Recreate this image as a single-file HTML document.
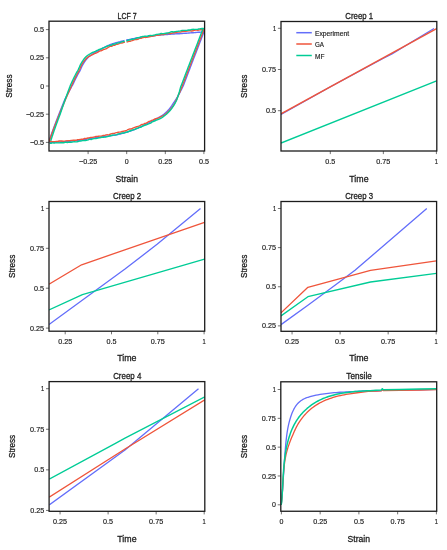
<!DOCTYPE html><html><head><meta charset="utf-8"><title>Fit comparison</title>
<style>html,body{margin:0;padding:0;background:#fff}svg{display:block}text{font-family:"Liberation Sans",sans-serif;fill:#1a1a1a;stroke:#1a1a1a;stroke-width:0.28px}text.s{stroke-width:0.16px}</style></head><body>
<svg width="447" height="550" viewBox="0 0 447 550">
<rect width="447" height="550" fill="#fff"/>
<path d="M88.10,151.00V154.10" stroke="#444" stroke-width="0.75"/>
<text x="88.10" y="164.00" font-size="7.2" text-anchor="middle" textLength="18.20" lengthAdjust="spacingAndGlyphs" class="s">−0.25</text>
<path d="M126.70,151.00V154.10" stroke="#444" stroke-width="0.75"/>
<text x="126.70" y="164.00" font-size="7.2" text-anchor="middle" textLength="3.90" lengthAdjust="spacingAndGlyphs" class="s">0</text>
<path d="M165.30,151.00V154.10" stroke="#444" stroke-width="0.75"/>
<text x="165.30" y="164.00" font-size="7.2" text-anchor="middle" textLength="14.00" lengthAdjust="spacingAndGlyphs" class="s">0.25</text>
<path d="M203.90,151.00V154.10" stroke="#444" stroke-width="0.75"/>
<text x="203.90" y="164.00" font-size="7.2" text-anchor="middle" textLength="10.00" lengthAdjust="spacingAndGlyphs" class="s">0.5</text>
<path d="M49.00,29.60H45.90" stroke="#444" stroke-width="0.75"/>
<text x="44.10" y="32.15" font-size="7.2" text-anchor="end" textLength="10.00" lengthAdjust="spacingAndGlyphs" class="s">0.5</text>
<path d="M49.00,57.80H45.90" stroke="#444" stroke-width="0.75"/>
<text x="44.10" y="60.35" font-size="7.2" text-anchor="end" textLength="14.00" lengthAdjust="spacingAndGlyphs" class="s">0.25</text>
<path d="M49.00,86.00H45.90" stroke="#444" stroke-width="0.75"/>
<text x="44.10" y="88.55" font-size="7.2" text-anchor="end" textLength="3.90" lengthAdjust="spacingAndGlyphs" class="s">0</text>
<path d="M49.00,114.20H45.90" stroke="#444" stroke-width="0.75"/>
<text x="44.10" y="116.75" font-size="7.2" text-anchor="end" textLength="18.20" lengthAdjust="spacingAndGlyphs" class="s">−0.25</text>
<path d="M49.00,142.40H45.90" stroke="#444" stroke-width="0.75"/>
<text x="44.10" y="144.95" font-size="7.2" text-anchor="end" textLength="14.20" lengthAdjust="spacingAndGlyphs" class="s">−0.5</text>
<text x="127.10" y="18.80" font-size="8.8" text-anchor="middle" textLength="19.20" lengthAdjust="spacingAndGlyphs">LCF 7</text>
<text x="126.80" y="181.80" font-size="9" text-anchor="middle" textLength="22.50" lengthAdjust="spacingAndGlyphs">Strain</text>
<text x="11.90" y="86.10" font-size="9" text-anchor="middle" textLength="23.30" lengthAdjust="spacingAndGlyphs" transform="rotate(-90 11.90 86.10)">Stress</text>
<clipPath id="c1"><rect x="49" y="21.2" width="155.6" height="129.8"/></clipPath>
<g clip-path="url(#c1)">
<path d="M48.93,141.40 L49.10,140.94 L49.29,140.39 L49.51,139.75 L49.76,139.04 L50.02,138.27 L50.31,137.45 L50.62,136.57 L50.93,135.66 L51.26,134.73 L51.60,133.77 L51.94,132.80 L52.29,131.83 L52.63,130.86 L52.97,129.91 L53.31,128.99 L53.64,128.09 L53.96,127.21 L54.30,126.32 L54.63,125.42 L54.98,124.51 L55.33,123.59 L55.68,122.67 L56.03,121.74 L56.39,120.82 L56.75,119.89 L57.11,118.96 L57.47,118.03 L57.83,117.11 L58.18,116.19 L58.54,115.28 L58.89,114.37 L59.24,113.48 L59.59,112.60 L59.93,111.72 L60.27,110.85 L60.61,109.98 L60.95,109.11 L61.29,108.25 L61.63,107.39 L61.97,106.53 L62.31,105.68 L62.66,104.82 L63.00,103.97 L63.34,103.11 L63.69,102.26 L64.04,101.40 L64.39,100.54 L64.75,99.67 L65.15,98.82 L65.59,97.97 L66.04,97.11 L66.49,96.24 L66.95,95.37 L67.41,94.50 L67.87,93.63 L68.33,92.77 L68.78,91.91 L69.24,91.06 L69.69,90.22 L70.13,89.40 L70.57,88.59 L71.00,87.80 L71.42,87.03 L71.84,86.28 L72.24,85.55 L72.65,84.83 L73.04,84.11 L73.39,83.37 L73.73,82.65 L74.06,81.93 L74.40,81.24 L74.73,80.55 L75.05,79.89 L75.36,79.24 L75.67,78.61 L75.97,78.01 L76.26,77.42 L76.54,76.87 L76.81,76.33 L77.06,75.83 L77.30,75.37 L77.52,74.95 L77.73,74.57 L77.93,74.21 L78.12,73.89 L78.30,73.58 L78.47,73.29 L78.64,73.01 L78.80,72.74 L78.97,72.47 L79.13,72.20 L79.30,71.92 L79.47,71.63 L79.64,71.32 L79.81,71.00 L80.00,70.65 L80.18,70.29 L80.35,69.92 L80.52,69.55 L80.68,69.18 L80.84,68.82 L80.99,68.45 L81.14,68.09 L81.30,67.72 L81.45,67.36 L81.61,67.00 L81.77,66.63 L81.94,66.27 L82.12,65.91 L82.30,65.55 L82.50,65.19 L82.71,64.82 L82.94,64.44 L83.18,64.03 L83.43,63.62 L83.69,63.20 L83.95,62.78 L84.23,62.35 L84.51,61.92 L84.79,61.50 L85.08,61.08 L85.37,60.67 L85.66,60.27 L85.95,59.89 L86.24,59.52 L86.53,59.18 L86.81,58.86 L87.09,58.56 L87.35,58.27 L87.59,57.98 L87.84,57.72 L88.08,57.46 L88.33,57.23 L88.58,57.00 L88.84,56.77 L89.11,56.56 L89.38,56.34 L89.67,56.13 L89.97,55.91 L90.28,55.69 L90.60,55.47 L90.93,55.23 L91.28,54.99 L91.64,54.74 L92.02,54.47 L92.42,54.20 L92.84,53.93 L93.28,53.64 L93.73,53.36 L94.19,53.07 L94.66,52.78 L95.13,52.50 L95.60,52.21 L96.07,51.93 L96.54,51.65 L97.00,51.38 L97.44,51.12 L97.87,50.87 L98.28,50.63 L98.67,50.41 L99.03,50.19 L99.39,49.99 L99.72,49.80 L100.05,49.62 L100.36,49.45 L100.67,49.29 L100.96,49.13 L101.26,48.98 L101.55,48.83 L101.83,48.68 L102.12,48.52 L102.41,48.37 L102.70,48.21 L103.01,48.04 L103.32,47.87 L103.64,47.69 L103.98,47.52 L104.34,47.35 L104.70,47.18 L105.08,47.00 L105.45,46.81 L105.84,46.63 L106.23,46.44 L106.61,46.25 L107.00,46.06 L107.39,45.87 L107.78,45.68 L108.16,45.50 L108.54,45.32 L108.92,45.16 L109.29,44.99 L109.65,44.84 L109.98,44.70 L110.29,44.58 L110.58,44.46 L110.85,44.35 L111.12,44.25 L111.38,44.15 L111.65,44.05 L111.91,43.96 L112.19,43.86 L112.48,43.77 L112.79,43.67 L113.11,43.57 L113.47,43.46 L113.85,43.34 L114.28,43.22 L114.74,43.08 L115.24,42.94 L115.77,42.79 L116.32,42.64 L116.90,42.49 L117.50,42.33 L118.12,42.17 L118.76,42.00 L119.42,41.83 L120.10,41.66 L120.79,41.48 L121.50,41.30 L122.22,41.11 L122.96,40.92 L123.72,40.73 L124.48,40.53" fill="none" stroke="#636EFA" stroke-width="1.4" stroke-linejoin="round" stroke-linecap="butt"/>
<path d="M126.06,40.15 L126.92,39.97 L127.81,39.78 L128.73,39.59 L129.68,39.39 L130.65,39.18 L131.63,38.97 L132.62,38.77 L133.60,38.56 L134.58,38.36 L135.55,38.16 L136.49,37.98 L137.41,37.80 L138.29,37.63 L139.14,37.48 L139.94,37.34 L140.70,37.21 L141.42,37.10 L142.12,37.00 L142.79,36.91 L143.43,36.83 L144.06,36.76 L144.67,36.69 L145.26,36.63 L145.85,36.58 L146.44,36.52 L147.02,36.47 L147.60,36.42 L148.20,36.37 L148.80,36.31 L149.42,36.25 L150.05,36.18 L150.67,36.11 L151.27,36.04 L151.84,35.97 L152.40,35.90 L152.95,35.84 L153.50,35.77 L154.05,35.70 L154.62,35.63 L155.20,35.56 L155.82,35.49 L156.46,35.42 L157.15,35.34 L157.88,35.26 L158.67,35.18 L159.52,35.09 L160.44,35.00 L161.44,34.92 L162.51,34.83 L163.64,34.74 L164.83,34.64 L166.07,34.54 L167.34,34.43 L168.65,34.33 L169.99,34.23 L171.34,34.13 L172.71,34.04 L174.08,33.96 L175.44,33.88 L176.80,33.81 L178.13,33.74 L179.44,33.68 L180.71,33.60 L181.99,33.49 L183.32,33.38 L184.70,33.28 L186.10,33.18 L187.52,33.08 L188.95,32.99 L190.37,32.89 L191.77,32.79 L193.13,32.68 L194.45,32.58 L195.72,32.49 L196.92,32.40 L198.03,32.32 L199.05,32.25 L199.97,32.19 L200.77,32.13 L201.43,32.08 L201.98,32.05 L202.42,32.03 L202.77,32.01 L203.02,32.01 L203.19,32.01 L203.27,32.01 L203.24,32.01 L203.11,32.00 L202.86,31.95 L202.58,31.87 L202.51,31.84 L202.83,31.96 L203.30,32.06 L203.70,32.10 L203.90,32.10" fill="none" stroke="#636EFA" stroke-width="1.4" stroke-linejoin="round" stroke-linecap="butt"/>
<path d="M49.12,141.47 L49.29,141.01 L49.49,140.45 L49.72,139.82 L49.97,139.12 L50.24,138.35 L50.54,137.53 L50.85,136.66 L51.18,135.75 L51.52,134.82 L51.86,133.86 L52.22,132.90 L52.57,131.93 L52.92,130.97 L53.28,130.02 L53.62,129.10 L53.96,128.21 L54.29,127.33 L54.63,126.45 L54.98,125.55 L55.33,124.64 L55.69,123.73 L56.05,122.81 L56.41,121.89 L56.78,120.97 L57.15,120.04 L57.52,119.12 L57.89,118.19 L58.25,117.27 L58.62,116.36 L58.99,115.45 L59.35,114.55 L59.70,113.66 L60.06,112.78 L60.41,111.91 L60.76,111.04 L61.11,110.17 L61.46,109.31 L61.81,108.45 L62.16,107.60 L62.51,106.75 L62.85,105.89 L63.20,105.04 L63.55,104.19 L63.91,103.34 L64.26,102.49 L64.62,101.63 L64.98,100.78 L65.34,99.92 L65.71,99.05 L66.08,98.17 L66.46,97.28 L66.85,96.39 L67.23,95.49 L67.62,94.59 L68.01,93.69 L68.39,92.80 L68.78,91.91 L69.17,91.03 L69.55,90.16 L69.93,89.31 L70.30,88.47 L70.67,87.65 L71.03,86.85 L71.38,86.08 L71.72,85.32 L72.06,84.56 L72.40,83.81 L72.73,83.07 L73.07,82.34 L73.40,81.62 L73.72,80.92 L74.05,80.23 L74.36,79.56 L74.67,78.91 L74.97,78.28 L75.27,77.66 L75.55,77.08 L75.82,76.51 L76.09,75.98 L76.34,75.47 L76.57,75.00 L76.80,74.57 L77.01,74.17 L77.21,73.81 L77.39,73.47 L77.57,73.16 L77.75,72.86 L77.91,72.58 L78.08,72.30 L78.24,72.04 L78.40,71.77 L78.56,71.49 L78.72,71.21 L78.88,70.91 L79.05,70.60 L79.22,70.26 L79.39,69.91 L79.55,69.55 L79.71,69.20 L79.86,68.84 L80.01,68.48 L80.16,68.11 L80.31,67.74 L80.46,67.38 L80.61,67.01 L80.77,66.63 L80.93,66.26 L81.10,65.88 L81.28,65.50 L81.47,65.12 L81.68,64.74 L81.89,64.35 L82.12,63.96 L82.36,63.55 L82.62,63.14 L82.91,62.72 L83.20,62.30 L83.50,61.88 L83.80,61.46 L84.11,61.04 L84.42,60.63 L84.74,60.22 L85.06,59.83 L85.38,59.45 L85.70,59.08 L86.01,58.74 L86.33,58.42 L86.63,58.12 L86.94,57.85 L87.24,57.59 L87.53,57.36 L87.82,57.14 L88.11,56.94 L88.41,56.75 L88.70,56.57 L89.01,56.40 L89.31,56.23 L89.63,56.06 L89.96,55.89 L90.30,55.73 L90.65,55.55 L91.01,55.37 L91.39,55.19 L91.79,54.99 L92.20,54.79 L92.63,54.59 L93.08,54.38 L93.55,54.18 L94.02,53.94 L94.50,53.70 L94.99,53.47 L95.49,53.24 L95.99,53.02 L96.48,52.81 L96.98,52.60 L97.45,52.37 L97.89,52.11 L98.31,51.84 L98.72,51.60 L99.12,51.40 L99.49,51.21 L99.84,51.03 L100.20,50.91 L100.56,50.83 L100.91,50.76 L101.25,50.71 L101.58,50.64 L101.86,50.47 L102.14,50.29 L102.41,50.11 L102.69,49.92 L102.98,49.75 L103.31,49.65 L103.65,49.55 L104.00,49.44 L104.37,49.33 L104.75,49.21 L105.14,49.07 L105.53,48.94 L105.94,48.80 L106.32,48.61 L106.70,48.40 L107.08,48.19 L107.45,47.98 L107.80,47.71 L108.15,47.45 L108.49,47.19 L108.84,46.95 L109.20,46.76 L109.55,46.59 L109.89,46.42 L110.25,46.30 L110.62,46.28 L110.97,46.27 L111.29,46.26 L111.59,46.25 L111.87,46.21 L112.09,46.06 L112.31,45.90 L112.53,45.75 L112.77,45.60 L113.02,45.44 L113.31,45.36 L113.65,45.34 L114.02,45.32 L114.43,45.31 L114.85,45.23 L115.27,44.96 L115.72,44.68 L116.21,44.40 L116.78,44.35 L117.37,44.30 L117.97,44.15 L118.55,43.84 L119.15,43.53 L119.79,43.31 L120.46,43.11 L121.17,43.01 L121.92,42.98 L122.65,42.82 L123.35,42.47 L124.10,42.24 L124.92,42.28" fill="none" stroke="#EF553B" stroke-width="1.4" stroke-linejoin="round" stroke-linecap="butt"/>
<path d="M126.58,42.14 L127.42,41.89 L128.25,41.46 L129.18,41.28 L130.18,41.26 L131.12,40.95 L132.07,40.62 L133.01,40.27 L133.96,39.93 L134.91,39.64 L135.91,39.58 L136.86,39.46 L137.77,39.28 L138.58,38.82 L139.34,38.32 L140.16,38.33 L140.94,38.35 L141.61,38.02 L142.25,37.70 L142.90,37.53 L143.53,37.43 L144.16,37.37 L144.78,37.41 L145.39,37.45 L145.98,37.41 L146.55,37.30 L147.13,37.19 L147.71,37.09 L148.29,36.98 L148.89,36.87 L149.50,36.74 L150.12,36.60 L150.74,36.48 L151.33,36.39 L151.90,36.30 L152.46,36.21 L153.00,36.11 L153.55,36.02 L154.09,35.90 L154.65,35.79 L155.22,35.65 L155.81,35.45 L156.43,35.25 L157.12,35.20 L157.87,35.21 L158.67,35.16 L159.52,35.05 L160.42,34.84 L161.38,34.56 L162.48,34.61 L163.61,34.52 L164.77,34.25 L165.93,33.70 L167.22,33.66 L168.53,33.55 L169.87,33.46 L171.24,33.44 L172.55,33.00 L173.89,32.70 L175.29,32.79 L176.61,32.44 L177.91,32.09 L179.22,32.02 L180.53,32.11 L181.77,31.63 L183.11,31.51 L184.48,31.30 L185.89,31.20 L187.32,31.07 L188.73,30.77 L190.16,30.69 L191.59,30.97 L192.96,30.81 L194.25,30.37 L195.50,30.03 L196.70,29.97 L197.84,30.22 L198.86,30.04 L199.77,29.89 L200.56,29.77 L201.23,29.70 L201.80,29.73 L202.27,29.75 L202.65,29.77 L202.94,29.75 L203.16,29.73 L203.31,29.73 L203.40,29.73 L203.43,29.73 L203.41,29.73 L203.37,29.72 L203.38,29.72 L203.48,29.76 L203.64,29.79 L203.78,29.80 L203.90,29.80" fill="none" stroke="#EF553B" stroke-width="1.4" stroke-linejoin="round" stroke-linecap="butt"/>
<path d="M50.35,141.90 L50.51,141.43 L50.69,140.87 L50.91,140.24 L51.14,139.53 L51.40,138.75 L51.68,137.92 L51.97,137.05 L52.27,136.13 L52.59,135.19 L52.91,134.23 L53.24,133.26 L53.57,132.28 L53.90,131.32 L54.23,130.37 L54.55,129.44 L54.87,128.55 L55.18,127.67 L55.50,126.77 L55.83,125.87 L56.16,124.96 L56.49,124.04 L56.83,123.11 L57.17,122.18 L57.52,121.25 L57.86,120.32 L58.21,119.38 L58.56,118.45 L58.90,117.53 L59.25,116.60 L59.59,115.69 L59.93,114.78 L60.27,113.88 L60.58,112.99 L60.88,112.09 L61.18,111.20 L61.47,110.31 L61.77,109.43 L62.07,108.56 L62.36,107.68 L62.66,106.81 L62.96,105.94 L63.26,105.06 L63.56,104.19 L63.86,103.32 L64.16,102.45 L64.47,101.57 L64.78,100.69 L65.09,99.81 L65.40,98.92 L65.72,98.02 L66.05,97.11 L66.38,96.19 L66.71,95.27 L67.04,94.35 L67.38,93.43 L67.71,92.51 L68.05,91.60 L68.38,90.69 L68.71,89.80 L69.04,88.92 L69.36,88.06 L69.68,87.22 L69.99,86.40 L70.30,85.60 L70.63,84.83 L70.97,84.07 L71.31,83.32 L71.65,82.57 L71.99,81.84 L72.33,81.12 L72.66,80.42 L72.98,79.73 L73.30,79.06 L73.62,78.40 L73.92,77.77 L74.22,77.16 L74.51,76.57 L74.78,76.00 L75.05,75.46 L75.31,74.95 L75.55,74.47 L75.78,74.03 L76.00,73.62 L76.20,73.25 L76.40,72.90 L76.59,72.58 L76.76,72.28 L76.94,71.99 L77.10,71.72 L77.26,71.45 L77.42,71.19 L77.57,70.92 L77.73,70.65 L77.88,70.37 L78.04,70.07 L78.21,69.75 L78.37,69.42 L78.52,69.09 L78.68,68.74 L78.83,68.40 L78.97,68.04 L79.12,67.68 L79.27,67.32 L79.43,66.95 L79.58,66.57 L79.75,66.19 L79.92,65.80 L80.10,65.41 L80.29,65.01 L80.49,64.61 L80.71,64.21 L80.93,63.80 L81.17,63.40 L81.41,62.98 L81.67,62.56 L81.93,62.12 L82.21,61.68 L82.49,61.24 L82.77,60.79 L83.07,60.34 L83.37,59.90 L83.67,59.46 L83.98,59.04 L84.30,58.62 L84.61,58.22 L84.93,57.83 L85.25,57.46 L85.58,57.11 L85.90,56.78 L86.22,56.48 L86.53,56.20 L86.85,55.94 L87.17,55.69 L87.49,55.46 L87.81,55.24 L88.13,55.03 L88.46,54.82 L88.79,54.63 L89.12,54.43 L89.46,54.24 L89.81,54.05 L90.16,53.85 L90.53,53.64 L90.91,53.43 L91.32,53.20 L91.76,52.96 L92.22,52.72 L92.69,52.48 L93.17,52.25 L93.67,52.01 L94.17,51.78 L94.68,51.55 L95.18,51.32 L95.67,51.07 L96.15,50.81 L96.63,50.59 L97.10,50.39 L97.57,50.23 L98.01,50.05 L98.41,49.85 L98.79,49.66 L99.16,49.47 L99.53,49.35 L99.90,49.28 L100.26,49.21 L100.61,49.16 L100.95,49.10 L101.24,48.93 L101.52,48.76 L101.79,48.58 L102.07,48.40 L102.35,48.23 L102.67,48.13 L103.00,48.03 L103.34,47.93 L103.69,47.82 L104.04,47.66 L104.40,47.48 L104.75,47.29 L105.12,47.09 L105.50,46.92 L105.90,46.75 L106.29,46.58 L106.69,46.41 L107.09,46.24 L107.49,46.07 L107.89,45.91 L108.29,45.77 L108.70,45.67 L109.10,45.57 L109.50,45.49 L109.88,45.42 L110.25,45.38 L110.60,45.35 L110.92,45.32 L111.22,45.29 L111.49,45.23 L111.72,45.06 L111.94,44.88 L112.17,44.71 L112.41,44.53 L112.67,44.35 L112.97,44.26 L113.32,44.24 L113.69,44.22 L114.10,44.20 L114.54,44.15 L115.00,44.00 L115.49,43.83 L116.00,43.65 L116.53,43.42 L117.08,43.17 L117.67,42.97 L118.29,42.85 L118.94,42.73 L119.61,42.59 L120.30,42.45 L120.97,42.20 L121.64,41.86 L122.35,41.62 L123.12,41.54 L123.90,41.45 L124.69,41.35" fill="none" stroke="#00CC96" stroke-width="1.4" stroke-linejoin="round" stroke-linecap="butt"/>
<path d="M126.29,41.05 L127.12,40.76 L127.94,40.29 L128.86,40.05 L129.84,39.96 L130.76,39.59 L131.72,39.31 L132.74,39.24 L133.74,39.08 L134.71,38.86 L135.62,38.47 L136.52,38.11 L137.40,37.77 L138.32,37.74 L139.21,37.78 L139.95,37.39 L140.66,37.02 L141.37,36.83 L142.05,36.65 L142.72,36.54 L143.37,36.46 L143.99,36.38 L144.60,36.27 L145.19,36.17 L145.80,36.20 L146.41,36.32 L147.01,36.44 L147.58,36.25 L148.14,36.00 L148.71,35.76 L149.31,35.60 L149.92,35.43 L150.55,35.43 L151.18,35.53 L151.78,35.63 L152.33,35.50 L152.86,35.35 L153.39,35.19 L153.94,35.09 L154.50,34.99 L155.08,34.87 L155.68,34.69 L156.30,34.50 L156.99,34.38 L157.72,34.29 L158.51,34.17 L159.35,34.01 L160.25,33.78 L161.21,33.49 L162.33,33.68 L163.47,33.66 L164.64,33.44 L165.86,33.21 L167.12,33.00 L168.42,32.82 L169.71,32.41 L170.99,31.81 L172.36,31.70 L173.78,31.95 L175.11,31.58 L176.46,31.40 L177.80,31.27 L179.10,31.08 L180.37,30.88 L181.64,30.56 L182.98,30.41 L184.38,30.36 L185.80,30.33 L187.23,30.20 L188.66,30.03 L190.08,29.94 L191.46,29.55 L192.82,29.32 L194.16,29.36 L195.44,29.41 L196.64,29.38 L197.75,29.23 L198.77,29.05 L199.68,28.89 L200.47,28.73 L201.14,28.61 L201.71,28.52 L202.19,28.45 L202.57,28.40 L202.89,28.44 L203.14,28.47 L203.33,28.51 L203.48,28.53 L203.60,28.56 L203.70,28.59 L203.77,28.63 L203.81,28.65 L203.81,28.65 L203.80,28.66 L203.82,28.67 L203.90,28.69" fill="none" stroke="#00CC96" stroke-width="1.4" stroke-linejoin="round" stroke-linecap="butt"/>
<path d="M204.74,29.72 L204.49,30.37 L204.19,31.16 L203.84,32.09 L203.44,33.13 L203.01,34.27 L202.55,35.48 L202.07,36.75 L201.57,38.06 L201.06,39.40 L200.55,40.74 L200.04,42.06 L199.55,43.35 L199.08,44.59 L198.63,45.76 L198.22,46.84 L197.84,47.82 L197.50,48.71 L197.18,49.54 L196.88,50.32 L196.59,51.05 L196.32,51.75 L196.06,52.41 L195.80,53.06 L195.56,53.69 L195.31,54.32 L195.07,54.94 L194.82,55.57 L194.56,56.22 L194.30,56.89 L194.03,57.60 L193.74,58.34 L193.44,59.12 L193.12,59.95 L192.79,60.81 L192.46,61.69 L192.11,62.60 L191.76,63.52 L191.40,64.46 L191.04,65.41 L190.68,66.36 L190.31,67.32 L189.95,68.28 L189.59,69.24 L189.23,70.18 L188.87,71.12 L188.52,72.04 L188.18,72.94 L187.84,73.82 L187.51,74.69 L187.18,75.56 L186.85,76.43 L186.52,77.29 L186.19,78.16 L185.86,79.01 L185.54,79.86 L185.22,80.70 L184.90,81.53 L184.59,82.34 L184.28,83.14 L183.98,83.92 L183.68,84.69 L183.39,85.43 L183.08,86.13 L182.76,86.80 L182.44,87.44 L182.14,88.05 L181.86,88.64 L181.58,89.20 L181.31,89.75 L181.05,90.27 L180.80,90.78 L180.54,91.28 L180.30,91.77 L180.05,92.25 L179.80,92.73 L179.55,93.21 L179.30,93.68 L179.04,94.16 L178.78,94.65 L178.50,95.15 L178.23,95.65 L177.95,96.15 L177.66,96.65 L177.35,97.15 L177.04,97.64 L176.74,98.13 L176.43,98.62 L176.12,99.10 L175.81,99.58 L175.50,100.05 L175.19,100.51 L174.89,100.97 L174.58,101.41 L174.28,101.85 L173.98,102.27 L173.67,102.68 L173.38,103.09 L173.12,103.50 L172.88,103.91 L172.64,104.31 L172.39,104.71 L172.15,105.09 L171.91,105.47 L171.66,105.84 L171.42,106.20 L171.17,106.56 L170.92,106.91 L170.67,107.26 L170.41,107.61 L170.15,107.95 L169.88,108.29 L169.60,108.63 L169.32,108.96 L169.04,109.30 L168.75,109.63 L168.45,109.96 L168.15,110.28 L167.84,110.60 L167.53,110.92 L167.22,111.23 L166.91,111.54 L166.60,111.84 L166.28,112.13 L165.97,112.42 L165.65,112.71 L165.34,112.98 L165.03,113.25 L164.72,113.51 L164.42,113.76 L164.14,114.00 L163.87,114.22 L163.61,114.43 L163.36,114.63 L163.11,114.82 L162.86,115.01 L162.60,115.19 L162.34,115.37 L162.06,115.55 L161.77,115.74 L161.45,115.93 L161.10,116.13 L160.73,116.34 L160.32,116.57 L159.88,116.80 L159.42,117.09 L158.92,117.39 L158.38,117.70 L157.82,118.02 L157.24,118.36 L156.63,118.70 L156.00,119.04 L155.36,119.39 L154.71,119.74 L154.05,120.09 L153.39,120.44 L152.73,120.79 L152.07,121.14 L151.43,121.48 L150.79,121.81 L150.17,122.13 L149.56,122.45 L148.95,122.77 L148.34,123.08 L147.73,123.40 L147.11,123.71 L146.50,124.02 L145.89,124.32 L145.27,124.63 L144.66,124.93 L144.05,125.23 L143.43,125.53 L142.82,125.83 L142.21,126.13 L141.60,126.42 L140.99,126.72 L140.38,127.01 L139.77,127.30 L139.16,127.60 L138.55,127.89 L137.95,128.18 L137.33,128.45 L136.71,128.69 L136.08,128.93 L135.46,129.17 L134.83,129.41 L134.20,129.64 L133.58,129.88 L132.95,130.10 L132.32,130.33 L131.69,130.55 L131.06,130.77 L130.42,130.98 L129.80,131.19 L129.19,131.39 L128.59,131.59 L128.00,131.78 L127.41,131.97 L126.82,132.15 L126.23,132.33 L125.63,132.51 L125.03,132.69 L124.41,132.87 L123.77,133.05 L123.12,133.22 L122.44,133.40 L121.74,133.58 L121.01,133.77 L120.25,133.96 L119.46,134.15 L118.64,134.34 L117.79,134.53 L116.91,134.70 L116.01,134.85 L115.09,135.00 L114.16,135.15 L113.21,135.30 L112.25,135.45 L111.29,135.59 L110.32,135.74 L109.35,135.88 L108.38,136.02 L107.41,136.17 L106.45,136.30 L105.50,136.44 L104.55,136.57 L103.59,136.71 L102.63,136.84 L101.66,136.97 L100.69,137.10 L99.72,137.23 L98.74,137.36 L97.76,137.49 L96.78,137.61 L95.80,137.74 L94.82,137.86 L93.84,137.98 L92.87,138.13 L91.91,138.29 L90.95,138.45 L90.00,138.60 L89.05,138.75 L88.11,138.91 L87.16,139.06 L86.22,139.21 L85.28,139.36 L84.35,139.51 L83.41,139.66 L82.47,139.80 L81.54,139.94 L80.61,140.08 L79.67,140.21 L78.74,140.34 L77.81,140.46 L76.87,140.58 L75.94,140.69 L75.00,140.80 L74.05,140.90 L73.09,140.99 L72.12,141.08 L71.15,141.17 L70.16,141.25 L69.18,141.32 L68.20,141.39 L67.23,141.46 L66.26,141.52 L65.30,141.58 L64.36,141.64 L63.44,141.69 L62.54,141.75 L61.66,141.80 L60.82,141.85 L60.00,141.90 L59.20,141.95 L58.39,141.99 L57.59,142.04 L56.79,142.08 L56.01,142.12 L55.24,142.15 L54.49,142.19 L53.76,142.22 L53.07,142.25 L52.41,142.28 L51.78,142.30 L51.20,142.32 L50.67,142.35 L50.19,142.37 L49.76,142.38 L49.40,142.40" fill="none" stroke="#636EFA" stroke-width="1.4" stroke-linejoin="round" stroke-linecap="butt"/>
<path d="M203.90,29.40 L203.65,30.05 L203.35,30.84 L203.00,31.77 L202.60,32.81 L202.17,33.95 L201.71,35.16 L201.22,36.43 L200.73,37.74 L200.22,39.08 L199.71,40.42 L199.20,41.74 L198.71,43.03 L198.24,44.27 L197.79,45.44 L197.38,46.52 L197.00,47.50 L196.66,48.39 L196.34,49.21 L196.04,49.99 L195.75,50.72 L195.48,51.42 L195.22,52.09 L194.97,52.73 L194.72,53.36 L194.47,53.99 L194.23,54.61 L193.98,55.25 L193.73,55.90 L193.46,56.57 L193.19,57.27 L192.90,58.01 L192.60,58.80 L192.28,59.63 L191.95,60.49 L191.62,61.37 L191.27,62.28 L190.92,63.20 L190.56,64.14 L190.20,65.09 L189.84,66.04 L189.47,67.00 L189.11,67.96 L188.75,68.92 L188.39,69.86 L188.03,70.80 L187.68,71.72 L187.34,72.62 L187.00,73.50 L186.67,74.37 L186.34,75.24 L186.01,76.11 L185.68,76.97 L185.35,77.84 L185.02,78.69 L184.70,79.54 L184.38,80.38 L184.06,81.21 L183.75,82.02 L183.44,82.82 L183.14,83.60 L182.84,84.36 L182.55,85.10 L182.27,85.81 L182.00,86.50 L181.74,87.16 L181.49,87.79 L181.24,88.39 L181.01,88.97 L180.79,89.53 L180.57,90.07 L180.35,90.60 L180.14,91.11 L179.93,91.62 L179.72,92.11 L179.51,92.60 L179.30,93.10 L179.08,93.59 L178.86,94.08 L178.63,94.59 L178.42,95.11 L178.20,95.64 L177.98,96.17 L177.76,96.70 L177.53,97.23 L177.30,97.77 L177.08,98.30 L176.85,98.82 L176.61,99.35 L176.38,99.87 L176.15,100.38 L175.91,100.88 L175.68,101.38 L175.44,101.87 L175.20,102.36 L174.96,102.83 L174.73,103.29 L174.49,103.74 L174.23,104.16 L173.97,104.57 L173.71,104.97 L173.45,105.37 L173.19,105.76 L172.93,106.14 L172.67,106.51 L172.41,106.88 L172.15,107.24 L171.88,107.60 L171.61,107.95 L171.33,108.31 L171.05,108.65 L170.76,109.00 L170.47,109.34 L170.17,109.68 L169.87,110.02 L169.55,110.35 L169.24,110.68 L168.92,111.01 L168.60,111.33 L168.27,111.64 L167.94,111.95 L167.61,112.26 L167.28,112.56 L166.95,112.85 L166.62,113.14 L166.30,113.43 L165.98,113.71 L165.66,113.99 L165.35,114.26 L165.05,114.52 L164.75,114.74 L164.45,114.94 L164.15,115.11 L163.85,115.26 L163.55,115.41 L163.27,115.57 L162.98,115.73 L162.69,115.89 L162.38,116.04 L162.05,116.20 L161.71,116.37 L161.34,116.54 L160.94,116.72 L160.52,116.93 L160.07,117.17 L159.59,117.44 L159.07,117.70 L158.50,117.95 L157.91,118.21 L157.24,118.37 L156.55,118.52 L155.85,118.71 L155.16,118.96 L154.49,119.26 L153.82,119.57 L153.14,119.87 L152.45,120.15 L151.77,120.44 L151.11,120.75 L150.46,121.05 L149.79,121.25 L149.12,121.42 L148.51,121.72 L147.93,122.10 L147.35,122.49 L146.77,122.88 L146.20,123.27 L145.51,123.40 L144.82,123.50 L144.18,123.74 L143.59,124.09 L142.98,124.38 L142.28,124.47 L141.59,124.55 L141.00,124.90 L140.43,125.30 L139.84,125.62 L139.22,125.89 L138.60,126.14 L137.96,126.37 L137.33,126.59 L136.69,126.79 L136.05,126.99 L135.42,127.19 L134.80,127.42 L134.17,127.64 L133.57,127.91 L132.96,128.19 L132.36,128.47 L131.77,128.76 L131.16,129.01 L130.47,129.02 L129.78,129.02 L129.14,129.15 L128.53,129.34 L127.94,129.55 L127.41,129.90 L126.88,130.25 L126.33,130.53 L125.76,130.75 L125.18,130.97 L124.56,131.04 L123.92,131.10 L123.27,131.21 L122.63,131.36 L121.96,131.52 L121.29,131.78 L120.59,132.05 L119.80,132.08 L118.98,132.08 L118.17,132.28 L117.34,132.50 L116.47,132.66 L115.59,132.87 L114.72,133.21 L113.80,133.42 L112.85,133.50 L111.89,133.65 L110.94,133.85 L110.03,134.23 L109.09,134.57 L108.16,134.86 L107.15,134.81 L106.17,134.84 L105.26,135.19 L104.32,135.36 L103.35,135.42 L102.43,135.76 L101.49,136.04 L100.51,136.10 L99.52,136.15 L98.53,136.19 L97.56,136.34 L96.58,136.47 L95.59,136.55 L94.65,136.86 L93.71,137.18 L92.74,137.30 L91.76,137.39 L90.79,137.47 L89.85,137.68 L88.91,137.89 L87.96,138.03 L87.04,138.28 L86.13,138.62 L85.16,138.57 L84.20,138.57 L83.32,139.07 L82.40,139.29 L81.43,139.22 L80.50,139.36 L79.58,139.53 L78.64,139.60 L77.72,139.76 L76.80,140.03 L75.88,140.18 L74.94,140.28 L73.99,140.27 L73.03,140.29 L72.06,140.34 L71.09,140.49 L70.12,140.67 L69.14,140.80 L68.16,140.82 L67.17,140.69 L66.21,140.84 L65.27,141.03 L64.33,141.18 L63.41,141.21 L62.50,141.07 L61.62,141.00 L60.76,140.96 L59.94,141.00 L59.14,141.05 L58.35,141.24 L57.56,141.45 L56.76,141.51 L55.98,141.53 L55.21,141.65 L54.47,141.77 L53.75,141.81 L53.05,141.81 L52.38,141.75 L51.75,141.61 L51.17,141.48 L50.63,141.46 L50.15,141.47 L49.72,141.47 L49.36,141.49" fill="none" stroke="#EF553B" stroke-width="1.4" stroke-linejoin="round" stroke-linecap="butt"/>
<path d="M202.87,29.01 L202.63,29.66 L202.32,30.45 L201.97,31.38 L201.57,32.42 L201.14,33.56 L200.68,34.77 L200.20,36.04 L199.70,37.35 L199.19,38.69 L198.68,40.02 L198.18,41.35 L197.68,42.64 L197.21,43.88 L196.76,45.05 L196.35,46.13 L195.97,47.11 L195.63,47.99 L195.31,48.82 L195.01,49.59 L194.73,50.32 L194.46,51.02 L194.20,51.68 L193.94,52.33 L193.69,52.96 L193.45,53.58 L193.20,54.21 L192.96,54.84 L192.70,55.50 L192.44,56.17 L192.16,56.87 L191.88,57.62 L191.57,58.41 L191.25,59.23 L190.93,60.09 L190.59,60.98 L190.24,61.88 L189.89,62.81 L189.53,63.75 L189.17,64.70 L188.81,65.65 L188.44,66.61 L188.08,67.57 L187.72,68.53 L187.36,69.47 L187.00,70.41 L186.65,71.33 L186.31,72.23 L185.97,73.11 L185.64,73.97 L185.31,74.84 L184.98,75.71 L184.65,76.58 L184.32,77.44 L183.99,78.30 L183.67,79.15 L183.35,79.99 L183.03,80.81 L182.72,81.63 L182.41,82.42 L182.11,83.20 L181.82,83.96 L181.53,84.70 L181.25,85.41 L180.98,86.09 L180.72,86.75 L180.53,87.41 L180.36,88.04 L180.20,88.64 L180.04,89.23 L179.88,89.80 L179.73,90.35 L179.58,90.88 L179.44,91.41 L179.29,91.93 L179.14,92.45 L178.99,92.96 L178.83,93.48 L178.67,94.00 L178.51,94.53 L178.34,95.07 L178.16,95.62 L177.98,96.17 L177.80,96.72 L177.62,97.28 L177.43,97.83 L177.25,98.38 L177.06,98.93 L176.87,99.47 L176.68,100.01 L176.46,100.54 L176.21,101.04 L175.95,101.53 L175.70,102.02 L175.45,102.49 L175.19,102.96 L174.94,103.41 L174.69,103.85 L174.44,104.28 L174.19,104.70 L173.94,105.11 L173.69,105.52 L173.45,105.92 L173.20,106.31 L172.95,106.69 L172.69,107.07 L172.44,107.45 L172.18,107.82 L171.92,108.18 L171.65,108.55 L171.38,108.91 L171.10,109.26 L170.81,109.62 L170.52,109.98 L170.22,110.33 L169.92,110.68 L169.61,111.02 L169.30,111.36 L168.98,111.70 L168.66,112.03 L168.34,112.35 L168.01,112.67 L167.68,112.98 L167.36,113.29 L167.05,113.61 L166.74,113.93 L166.42,114.22 L166.08,114.48 L165.74,114.73 L165.41,114.95 L165.12,115.18 L164.84,115.42 L164.58,115.64 L164.31,115.86 L164.05,116.07 L163.79,116.29 L163.53,116.51 L163.26,116.74 L162.97,116.96 L162.66,117.19 L162.32,117.39 L161.95,117.60 L161.55,117.81 L161.12,118.04 L160.66,118.29 L160.16,118.55 L159.63,118.82 L159.07,119.12 L158.49,119.43 L157.86,119.69 L157.20,119.95 L156.53,120.20 L155.84,120.47 L155.15,120.73 L154.45,121.00 L153.75,121.26 L153.05,121.53 L152.37,121.83 L151.79,122.31 L151.21,122.78 L150.58,123.09 L149.96,123.38 L149.31,123.62 L148.65,123.83 L148.01,124.07 L147.40,124.39 L146.79,124.71 L146.12,124.89 L145.44,125.04 L144.79,125.24 L144.14,125.47 L143.51,125.72 L142.89,126.00 L142.27,126.29 L141.69,126.66 L141.11,127.05 L140.47,127.25 L139.75,127.27 L139.06,127.33 L138.48,127.70 L137.91,128.08 L137.28,128.30 L136.62,128.47 L136.00,128.71 L135.43,129.09 L134.85,129.47 L134.19,129.60 L133.52,129.72 L132.87,129.89 L132.24,130.11 L131.61,130.32 L130.98,130.56 L130.36,130.78 L129.75,131.02 L129.15,131.25 L128.56,131.49 L127.99,131.74 L127.42,131.98 L126.82,132.12 L126.19,132.19 L125.56,132.26 L124.99,132.56 L124.41,132.87 L123.77,133.02 L123.06,132.99 L122.33,132.97 L121.64,133.20 L120.93,133.43 L120.16,133.57 L119.35,133.70 L118.53,133.88 L117.69,134.08 L116.87,134.52 L116.02,134.91 L115.11,135.08 L114.16,135.15 L113.17,135.12 L112.22,135.27 L111.27,135.48 L110.33,135.76 L109.39,136.07 L108.45,136.39 L107.50,136.62 L106.55,136.81 L105.60,136.97 L104.65,137.09 L103.69,137.21 L102.70,137.21 L101.72,137.28 L100.77,137.56 L99.80,137.72 L98.82,137.81 L97.87,138.12 L96.91,138.38 L95.94,138.57 L94.95,138.62 L93.96,138.65 L92.99,138.83 L92.05,139.12 L91.13,139.50 L90.13,139.41 L89.15,139.39 L88.26,139.86 L87.34,140.18 L86.41,140.37 L85.47,140.54 L84.53,140.67 L83.55,140.58 L82.60,140.64 L81.68,140.85 L80.74,141.01 L79.81,141.16 L78.87,141.31 L77.94,141.51 L77.02,141.76 L76.07,141.83 L75.11,141.82 L74.14,141.76 L73.17,141.83 L72.22,142.16 L71.23,142.20 L70.23,142.13 L69.25,142.26 L68.27,142.38 L67.29,142.50 L66.31,142.33 L65.34,142.18 L64.42,142.55 L63.50,142.76 L62.60,142.77 L61.72,142.77 L60.87,142.75 L60.06,142.80 L59.25,142.86 L58.44,142.89 L57.63,142.91 L56.83,142.87 L56.04,142.82 L55.27,142.93 L54.53,143.07 L53.80,143.03 L53.09,142.91 L52.43,142.90 L51.81,143.05 L51.24,143.20 L50.71,143.27 L50.23,143.32 L49.81,143.37 L49.44,143.40" fill="none" stroke="#00CC96" stroke-width="1.4" stroke-linejoin="round" stroke-linecap="butt"/>
</g>
<rect x="49" y="21.2" width="155.6" height="129.8" fill="none" stroke="#1c1c1c" stroke-width="1.3"/>
<path d="M330.30,151.00V154.10" stroke="#444" stroke-width="0.75"/>
<text x="330.30" y="164.00" font-size="7.2" text-anchor="middle" textLength="10.00" lengthAdjust="spacingAndGlyphs" class="s">0.5</text>
<path d="M383.35,151.00V154.10" stroke="#444" stroke-width="0.75"/>
<text x="383.35" y="164.00" font-size="7.2" text-anchor="middle" textLength="14.10" lengthAdjust="spacingAndGlyphs" class="s">0.75</text>
<path d="M436.40,151.00V154.10" stroke="#444" stroke-width="0.75"/>
<text x="436.40" y="164.00" font-size="7.2" text-anchor="middle" textLength="3.20" lengthAdjust="spacingAndGlyphs" class="s">1</text>
<path d="M281.00,28.30H277.90" stroke="#444" stroke-width="0.75"/>
<text x="276.10" y="30.85" font-size="7.2" text-anchor="end" textLength="3.20" lengthAdjust="spacingAndGlyphs" class="s">1</text>
<path d="M281.00,69.50H277.90" stroke="#444" stroke-width="0.75"/>
<text x="276.10" y="72.05" font-size="7.2" text-anchor="end" textLength="14.10" lengthAdjust="spacingAndGlyphs" class="s">0.75</text>
<path d="M281.00,110.70H277.90" stroke="#444" stroke-width="0.75"/>
<text x="276.10" y="113.25" font-size="7.2" text-anchor="end" textLength="10.00" lengthAdjust="spacingAndGlyphs" class="s">0.5</text>
<text x="359.20" y="18.80" font-size="8.8" text-anchor="middle" textLength="27.80" lengthAdjust="spacingAndGlyphs">Creep 1</text>
<text x="358.90" y="181.80" font-size="9" text-anchor="middle" textLength="19.30" lengthAdjust="spacingAndGlyphs">Time</text>
<text x="247.00" y="86.25" font-size="9" text-anchor="middle" textLength="23.30" lengthAdjust="spacingAndGlyphs" transform="rotate(-90 247.00 86.25)">Stress</text>
<clipPath id="c2"><rect x="281" y="21.5" width="155.8" height="129.5"/></clipPath>
<g clip-path="url(#c2)">
<path d="M281.00,114.50 L330.00,87.00 L383.00,58.50 L392.00,54.00 L410.00,43.00 L434.00,28.50" fill="none" stroke="#636EFA" stroke-width="1.3" stroke-linejoin="round" stroke-linecap="butt"/>
<path d="M281.00,113.80 L436.60,28.60" fill="none" stroke="#EF553B" stroke-width="1.4" stroke-linejoin="round" stroke-linecap="butt"/>
<path d="M281.00,143.10 L436.60,80.80" fill="none" stroke="#00CC96" stroke-width="1.4" stroke-linejoin="round" stroke-linecap="butt"/>
</g>
<path d="M296.3,32.7H311.8" stroke="#636EFA" stroke-width="1.5"/>
<text x="315.00" y="35.70" font-size="7.2" text-anchor="start" textLength="34.00" lengthAdjust="spacingAndGlyphs" class="s">Experiment</text>
<path d="M296.3,44H311.8" stroke="#EF553B" stroke-width="1.5"/>
<text x="315.00" y="47.00" font-size="7.2" text-anchor="start" textLength="9.00" lengthAdjust="spacingAndGlyphs" class="s">GA</text>
<path d="M296.3,55.5H311.8" stroke="#00CC96" stroke-width="1.5"/>
<text x="315.00" y="58.50" font-size="7.2" text-anchor="start" textLength="9.40" lengthAdjust="spacingAndGlyphs" class="s">MF</text>
<rect x="281" y="21.5" width="155.8" height="129.5" fill="none" stroke="#1c1c1c" stroke-width="1.3"/>
<path d="M65.20,331.20V334.30" stroke="#444" stroke-width="0.75"/>
<text x="65.20" y="343.80" font-size="7.2" text-anchor="middle" textLength="14.00" lengthAdjust="spacingAndGlyphs" class="s">0.25</text>
<path d="M111.50,331.20V334.30" stroke="#444" stroke-width="0.75"/>
<text x="111.50" y="343.80" font-size="7.2" text-anchor="middle" textLength="10.00" lengthAdjust="spacingAndGlyphs" class="s">0.5</text>
<path d="M157.80,331.20V334.30" stroke="#444" stroke-width="0.75"/>
<text x="157.80" y="343.80" font-size="7.2" text-anchor="middle" textLength="14.10" lengthAdjust="spacingAndGlyphs" class="s">0.75</text>
<path d="M204.10,331.20V334.30" stroke="#444" stroke-width="0.75"/>
<text x="204.10" y="343.80" font-size="7.2" text-anchor="middle" textLength="3.20" lengthAdjust="spacingAndGlyphs" class="s">1</text>
<path d="M49.00,208.40H45.90" stroke="#444" stroke-width="0.75"/>
<text x="44.10" y="210.95" font-size="7.2" text-anchor="end" textLength="3.20" lengthAdjust="spacingAndGlyphs" class="s">1</text>
<path d="M49.00,248.30H45.90" stroke="#444" stroke-width="0.75"/>
<text x="44.10" y="250.85" font-size="7.2" text-anchor="end" textLength="14.10" lengthAdjust="spacingAndGlyphs" class="s">0.75</text>
<path d="M49.00,288.20H45.90" stroke="#444" stroke-width="0.75"/>
<text x="44.10" y="290.75" font-size="7.2" text-anchor="end" textLength="10.00" lengthAdjust="spacingAndGlyphs" class="s">0.5</text>
<path d="M49.00,328.10H45.90" stroke="#444" stroke-width="0.75"/>
<text x="44.10" y="330.65" font-size="7.2" text-anchor="end" textLength="14.00" lengthAdjust="spacingAndGlyphs" class="s">0.25</text>
<text x="127.15" y="198.80" font-size="8.8" text-anchor="middle" textLength="28.10" lengthAdjust="spacingAndGlyphs">Creep 2</text>
<text x="126.85" y="361.30" font-size="9" text-anchor="middle" textLength="19.30" lengthAdjust="spacingAndGlyphs">Time</text>
<text x="15.00" y="266.35" font-size="9" text-anchor="middle" textLength="23.30" lengthAdjust="spacingAndGlyphs" transform="rotate(-90 15.00 266.35)">Stress</text>
<clipPath id="c3"><rect x="49" y="201.5" width="155.7" height="129.7"/></clipPath>
<g clip-path="url(#c3)">
<path d="M49.00,324.60 L125.00,269.00 L157.40,244.10 L200.50,208.50" fill="none" stroke="#636EFA" stroke-width="1.3" stroke-linejoin="round" stroke-linecap="butt"/>
<path d="M49.00,284.20 L81.60,264.80 L204.50,222.30" fill="none" stroke="#EF553B" stroke-width="1.3" stroke-linejoin="round" stroke-linecap="butt"/>
<path d="M49.00,310.00 L82.40,294.70 L204.50,259.10" fill="none" stroke="#00CC96" stroke-width="1.3" stroke-linejoin="round" stroke-linecap="butt"/>
</g>
<rect x="49" y="201.5" width="155.7" height="129.7" fill="none" stroke="#1c1c1c" stroke-width="1.3"/>
<path d="M292.05,331.30V334.40" stroke="#444" stroke-width="0.75"/>
<text x="292.05" y="343.80" font-size="7.2" text-anchor="middle" textLength="14.00" lengthAdjust="spacingAndGlyphs" class="s">0.25</text>
<path d="M340.10,331.30V334.40" stroke="#444" stroke-width="0.75"/>
<text x="340.10" y="343.80" font-size="7.2" text-anchor="middle" textLength="10.00" lengthAdjust="spacingAndGlyphs" class="s">0.5</text>
<path d="M388.15,331.30V334.40" stroke="#444" stroke-width="0.75"/>
<text x="388.15" y="343.80" font-size="7.2" text-anchor="middle" textLength="14.10" lengthAdjust="spacingAndGlyphs" class="s">0.75</text>
<path d="M436.20,331.30V334.40" stroke="#444" stroke-width="0.75"/>
<text x="436.20" y="343.80" font-size="7.2" text-anchor="middle" textLength="3.20" lengthAdjust="spacingAndGlyphs" class="s">1</text>
<path d="M281.00,208.50H277.90" stroke="#444" stroke-width="0.75"/>
<text x="276.10" y="211.05" font-size="7.2" text-anchor="end" textLength="3.20" lengthAdjust="spacingAndGlyphs" class="s">1</text>
<path d="M281.00,247.62H277.90" stroke="#444" stroke-width="0.75"/>
<text x="276.10" y="250.18" font-size="7.2" text-anchor="end" textLength="14.10" lengthAdjust="spacingAndGlyphs" class="s">0.75</text>
<path d="M281.00,286.75H277.90" stroke="#444" stroke-width="0.75"/>
<text x="276.10" y="289.30" font-size="7.2" text-anchor="end" textLength="10.00" lengthAdjust="spacingAndGlyphs" class="s">0.5</text>
<path d="M281.00,325.88H277.90" stroke="#444" stroke-width="0.75"/>
<text x="276.10" y="328.43" font-size="7.2" text-anchor="end" textLength="14.00" lengthAdjust="spacingAndGlyphs" class="s">0.25</text>
<text x="359.10" y="198.80" font-size="8.8" text-anchor="middle" textLength="27.80" lengthAdjust="spacingAndGlyphs">Creep 3</text>
<text x="358.80" y="361.30" font-size="9" text-anchor="middle" textLength="19.30" lengthAdjust="spacingAndGlyphs">Time</text>
<text x="247.00" y="266.40" font-size="9" text-anchor="middle" textLength="23.30" lengthAdjust="spacingAndGlyphs" transform="rotate(-90 247.00 266.40)">Stress</text>
<clipPath id="c4"><rect x="281" y="201.5" width="155.60000000000002" height="129.8"/></clipPath>
<g clip-path="url(#c4)">
<path d="M281.00,324.60 L307.90,305.20 L336.00,284.50 L355.00,270.30 L426.80,208.50" fill="none" stroke="#636EFA" stroke-width="1.3" stroke-linejoin="round" stroke-linecap="butt"/>
<path d="M281.00,312.90 L307.90,287.30 L370.50,270.30 L436.40,260.80" fill="none" stroke="#EF553B" stroke-width="1.3" stroke-linejoin="round" stroke-linecap="butt"/>
<path d="M281.00,315.90 L307.90,296.70 L370.50,282.00 L436.40,273.30" fill="none" stroke="#00CC96" stroke-width="1.3" stroke-linejoin="round" stroke-linecap="butt"/>
</g>
<rect x="281" y="201.5" width="155.60000000000002" height="129.8" fill="none" stroke="#1c1c1c" stroke-width="1.3"/>
<path d="M60.05,511.30V514.40" stroke="#444" stroke-width="0.75"/>
<text x="60.05" y="524.40" font-size="7.2" text-anchor="middle" textLength="14.00" lengthAdjust="spacingAndGlyphs" class="s">0.25</text>
<path d="M108.10,511.30V514.40" stroke="#444" stroke-width="0.75"/>
<text x="108.10" y="524.40" font-size="7.2" text-anchor="middle" textLength="10.00" lengthAdjust="spacingAndGlyphs" class="s">0.5</text>
<path d="M156.15,511.30V514.40" stroke="#444" stroke-width="0.75"/>
<text x="156.15" y="524.40" font-size="7.2" text-anchor="middle" textLength="14.10" lengthAdjust="spacingAndGlyphs" class="s">0.75</text>
<path d="M204.20,511.30V514.40" stroke="#444" stroke-width="0.75"/>
<text x="204.20" y="524.40" font-size="7.2" text-anchor="middle" textLength="3.20" lengthAdjust="spacingAndGlyphs" class="s">1</text>
<path d="M49.10,388.70H46.00" stroke="#444" stroke-width="0.75"/>
<text x="44.20" y="391.25" font-size="7.2" text-anchor="end" textLength="3.20" lengthAdjust="spacingAndGlyphs" class="s">1</text>
<path d="M49.10,429.27H46.00" stroke="#444" stroke-width="0.75"/>
<text x="44.20" y="431.82" font-size="7.2" text-anchor="end" textLength="14.10" lengthAdjust="spacingAndGlyphs" class="s">0.75</text>
<path d="M49.10,469.85H46.00" stroke="#444" stroke-width="0.75"/>
<text x="44.20" y="472.40" font-size="7.2" text-anchor="end" textLength="10.00" lengthAdjust="spacingAndGlyphs" class="s">0.5</text>
<path d="M49.10,510.43H46.00" stroke="#444" stroke-width="0.75"/>
<text x="44.20" y="512.98" font-size="7.2" text-anchor="end" textLength="14.00" lengthAdjust="spacingAndGlyphs" class="s">0.25</text>
<text x="127.25" y="378.80" font-size="8.8" text-anchor="middle" textLength="28.20" lengthAdjust="spacingAndGlyphs">Creep 4</text>
<text x="126.95" y="541.80" font-size="9" text-anchor="middle" textLength="19.30" lengthAdjust="spacingAndGlyphs">Time</text>
<text x="15.00" y="446.45" font-size="9" text-anchor="middle" textLength="23.30" lengthAdjust="spacingAndGlyphs" transform="rotate(-90 15.00 446.45)">Stress</text>
<clipPath id="c5"><rect x="49.1" y="381.6" width="155.70000000000002" height="129.7"/></clipPath>
<g clip-path="url(#c5)">
<path d="M49.20,504.90 L125.00,450.00 L198.50,388.70" fill="none" stroke="#636EFA" stroke-width="1.3" stroke-linejoin="round" stroke-linecap="butt"/>
<path d="M49.20,497.20 L125.00,449.00 L204.80,399.90" fill="none" stroke="#EF553B" stroke-width="1.3" stroke-linejoin="round" stroke-linecap="butt"/>
<path d="M49.20,479.20 L115.00,443.60 L125.00,438.10 L204.80,396.90" fill="none" stroke="#00CC96" stroke-width="1.3" stroke-linejoin="round" stroke-linecap="butt"/>
</g>
<rect x="49.1" y="381.6" width="155.70000000000002" height="129.7" fill="none" stroke="#1c1c1c" stroke-width="1.3"/>
<path d="M281.40,511.25V514.35" stroke="#444" stroke-width="0.75"/>
<text x="281.40" y="524.40" font-size="7.2" text-anchor="middle" textLength="3.90" lengthAdjust="spacingAndGlyphs" class="s">0</text>
<path d="M320.15,511.25V514.35" stroke="#444" stroke-width="0.75"/>
<text x="320.15" y="524.40" font-size="7.2" text-anchor="middle" textLength="14.00" lengthAdjust="spacingAndGlyphs" class="s">0.25</text>
<path d="M358.90,511.25V514.35" stroke="#444" stroke-width="0.75"/>
<text x="358.90" y="524.40" font-size="7.2" text-anchor="middle" textLength="10.00" lengthAdjust="spacingAndGlyphs" class="s">0.5</text>
<path d="M397.65,511.25V514.35" stroke="#444" stroke-width="0.75"/>
<text x="397.65" y="524.40" font-size="7.2" text-anchor="middle" textLength="14.10" lengthAdjust="spacingAndGlyphs" class="s">0.75</text>
<path d="M436.40,511.25V514.35" stroke="#444" stroke-width="0.75"/>
<text x="436.40" y="524.40" font-size="7.2" text-anchor="middle" textLength="3.20" lengthAdjust="spacingAndGlyphs" class="s">1</text>
<path d="M280.80,389.50H277.70" stroke="#444" stroke-width="0.75"/>
<text x="275.90" y="392.05" font-size="7.2" text-anchor="end" textLength="3.20" lengthAdjust="spacingAndGlyphs" class="s">1</text>
<path d="M280.80,418.33H277.70" stroke="#444" stroke-width="0.75"/>
<text x="275.90" y="420.88" font-size="7.2" text-anchor="end" textLength="14.10" lengthAdjust="spacingAndGlyphs" class="s">0.75</text>
<path d="M280.80,447.15H277.70" stroke="#444" stroke-width="0.75"/>
<text x="275.90" y="449.70" font-size="7.2" text-anchor="end" textLength="10.00" lengthAdjust="spacingAndGlyphs" class="s">0.5</text>
<path d="M280.80,475.98H277.70" stroke="#444" stroke-width="0.75"/>
<text x="275.90" y="478.53" font-size="7.2" text-anchor="end" textLength="14.00" lengthAdjust="spacingAndGlyphs" class="s">0.25</text>
<path d="M280.80,504.80H277.70" stroke="#444" stroke-width="0.75"/>
<text x="275.90" y="507.35" font-size="7.2" text-anchor="end" textLength="3.90" lengthAdjust="spacingAndGlyphs" class="s">0</text>
<text x="359.05" y="378.80" font-size="8.8" text-anchor="middle" textLength="25.40" lengthAdjust="spacingAndGlyphs">Tensile</text>
<text x="358.75" y="541.80" font-size="9" text-anchor="middle" textLength="22.50" lengthAdjust="spacingAndGlyphs">Strain</text>
<text x="247.00" y="446.52" font-size="9" text-anchor="middle" textLength="23.30" lengthAdjust="spacingAndGlyphs" transform="rotate(-90 247.00 446.52)">Stress</text>
<clipPath id="c6"><rect x="280.8" y="381.8" width="155.89999999999998" height="129.45"/></clipPath>
<g clip-path="url(#c6)">
<path d="M281.20,504.80 L281.38,502.80 L281.58,500.80 L281.78,498.80 L281.96,496.80 L282.13,494.80 L282.30,492.79 L282.46,490.79 L282.61,488.79 L282.75,486.79 L282.90,484.78 L283.03,482.78 L283.17,480.78 L283.30,478.78 L283.42,476.78 L283.55,474.77 L283.68,472.77 L283.80,470.77 L283.93,468.77 L284.05,466.77 L284.18,464.77 L284.31,462.78 L284.44,460.78 L284.58,458.78 L284.72,456.78 L284.87,454.79 L285.02,452.79 L285.17,450.80 L285.34,448.80 L285.51,446.81 L285.69,444.82 L285.88,442.83 L286.08,440.84 L286.30,438.85 L286.53,436.86 L286.79,434.87 L287.07,432.88 L287.39,430.90 L287.73,428.91 L288.11,426.92 L288.53,424.93 L288.99,422.94 L289.50,420.95 L290.06,418.96 L290.67,416.98 L291.34,415.02 L292.07,413.09 L292.86,411.22 L293.73,409.43 L294.66,407.72 L295.67,406.10 L296.77,404.60 L297.99,403.21 L299.34,401.92 L300.84,400.75 L302.49,399.70 L304.26,398.77 L306.12,397.97 L308.04,397.26 L310.03,396.65 L312.04,396.12 L314.07,395.64 L316.10,395.21 L318.12,394.81 L320.13,394.45 L322.13,394.12 L324.13,393.82 L326.13,393.55 L328.12,393.31 L330.10,393.09 L332.09,392.89 L334.06,392.71 L336.04,392.55 L338.02,392.41 L339.99,392.27 L341.97,392.16 L343.95,392.05 L345.93,391.94 L347.91,391.85 L349.89,391.75 L351.88,391.66 L353.87,391.57 L355.86,391.47 L357.86,391.37 L359.87,391.27 L361.88,391.15 L363.90,391.02 L365.93,390.88 L367.97,390.72 L370.02,390.55 L376.00,391.00 L381.30,390.70 L382.30,389.40 L383.40,390.40 L400.00,390.15 L420.00,389.80 L436.70,389.45" fill="none" stroke="#636EFA" stroke-width="1.3" stroke-linejoin="round" stroke-linecap="butt"/>
<path d="M281.20,504.80 L281.42,502.87 L281.64,501.08 L281.83,499.27 L282.01,497.46 L282.16,495.64 L282.30,493.81 L282.43,491.97 L282.54,490.12 L282.65,488.27 L282.75,486.41 L282.85,484.55 L282.94,482.68 L283.04,480.81 L283.14,478.94 L283.25,477.07 L283.37,475.19 L283.50,473.32 L283.65,471.44 L283.81,469.57 L283.99,467.70 L284.20,465.83 L284.43,463.96 L284.68,462.10 L284.97,460.24 L285.28,458.39 L285.63,456.54 L286.02,454.70 L286.45,452.87 L286.92,451.05 L287.44,449.24 L288.00,447.43 L288.59,445.64 L289.22,443.86 L289.88,442.09 L290.56,440.33 L291.26,438.59 L291.97,436.86 L292.69,435.15 L293.42,433.45 L294.15,431.77 L294.90,430.11 L295.67,428.46 L296.48,426.84 L297.34,425.23 L298.26,423.64 L299.23,422.08 L300.26,420.54 L301.34,419.03 L302.47,417.56 L303.65,416.11 L304.87,414.71 L306.15,413.34 L307.46,412.02 L308.82,410.74 L310.22,409.51 L311.66,408.32 L313.13,407.19 L314.65,406.11 L316.19,405.08 L317.77,404.10 L319.38,403.17 L321.01,402.30 L322.68,401.47 L324.37,400.70 L326.08,399.97 L327.82,399.28 L329.57,398.64 L331.35,398.03 L333.14,397.47 L334.95,396.94 L336.77,396.45 L338.60,395.99 L340.45,395.56 L342.30,395.16 L344.16,394.79 L346.02,394.44 L347.89,394.11 L349.76,393.80 L351.63,393.52 L353.50,393.25 L355.36,392.99 L357.22,392.75 L359.08,392.52 L360.92,392.30 L362.76,392.08 L364.58,391.87 L366.39,391.67 L368.19,391.46 L369.97,391.25 L376.00,391.20 L381.30,390.90 L382.30,389.60 L383.40,390.60 L400.00,390.35 L420.00,390.00 L436.70,389.65" fill="none" stroke="#EF553B" stroke-width="1.3" stroke-linejoin="round" stroke-linecap="butt"/>
<path d="M281.20,504.80 L281.54,502.85 L281.71,501.00 L281.85,499.15 L281.99,497.29 L282.12,495.42 L282.24,493.55 L282.35,491.67 L282.46,489.79 L282.56,487.90 L282.66,486.01 L282.76,484.12 L282.85,482.22 L282.95,480.31 L283.06,478.41 L283.17,476.50 L283.28,474.59 L283.40,472.68 L283.54,470.77 L283.68,468.86 L283.83,466.95 L284.00,465.04 L284.19,463.12 L284.39,461.21 L284.61,459.31 L284.85,457.40 L285.11,455.49 L285.40,453.59 L285.71,451.69 L286.04,449.80 L286.41,447.91 L286.80,446.02 L287.22,444.14 L287.68,442.26 L288.17,440.40 L288.69,438.55 L289.25,436.72 L289.85,434.90 L290.49,433.10 L291.17,431.32 L291.89,429.56 L292.66,427.83 L293.47,426.12 L294.33,424.45 L295.24,422.80 L296.20,421.19 L297.21,419.61 L298.28,418.07 L299.39,416.57 L300.56,415.11 L301.78,413.69 L303.04,412.32 L304.35,410.98 L305.71,409.69 L307.10,408.44 L308.54,407.23 L310.02,406.07 L311.54,404.96 L313.09,403.90 L314.68,402.88 L316.30,401.92 L317.95,401.00 L319.63,400.13 L321.34,399.32 L323.07,398.55 L324.83,397.84 L326.61,397.17 L328.41,396.55 L330.24,395.97 L332.08,395.43 L333.93,394.93 L335.80,394.47 L337.69,394.04 L339.59,393.65 L341.49,393.30 L343.40,392.97 L345.32,392.67 L347.25,392.40 L349.18,392.16 L351.11,391.94 L353.03,391.74 L354.96,391.56 L356.88,391.40 L358.80,391.26 L360.71,391.13 L362.62,391.02 L364.51,390.92 L366.39,390.82 L368.26,390.74 L370.11,390.66 L376.00,390.30 L381.30,390.00 L382.30,388.70 L383.40,389.70 L400.00,389.45 L420.00,389.10 L436.70,388.75" fill="none" stroke="#00CC96" stroke-width="1.5" stroke-linejoin="round" stroke-linecap="butt"/>
</g>
<rect x="280.8" y="381.8" width="155.89999999999998" height="129.45" fill="none" stroke="#1c1c1c" stroke-width="1.3"/>
</svg></body></html>
